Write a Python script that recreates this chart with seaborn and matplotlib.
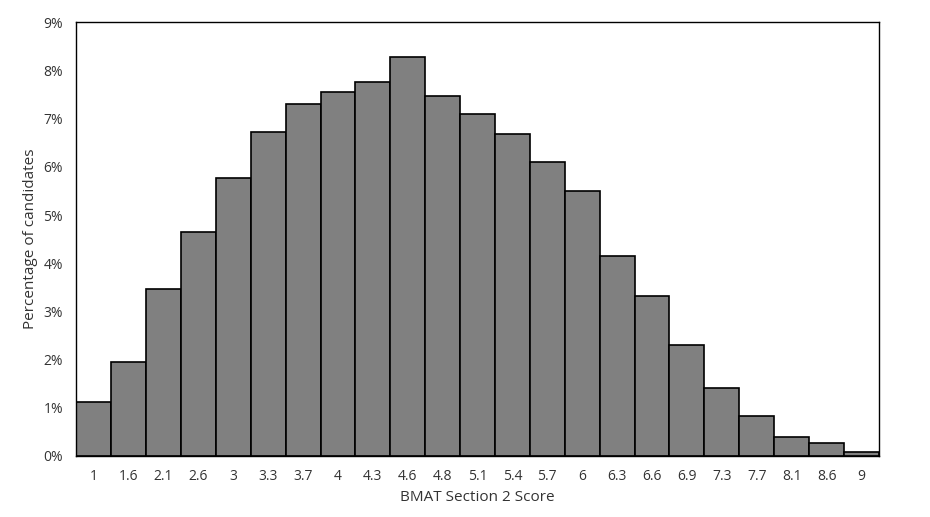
import matplotlib
matplotlib.use("Agg")
import matplotlib.pyplot as plt
import seaborn as sns
import pandas as pd
from matplotlib.ticker import PercentFormatter

scores = ["1", "1.6", "2.1", "2.6", "3", "3.3", "3.7", "4", "4.3", "4.6", "4.8", "5.1",
          "5.4", "5.7", "6", "6.3", "6.6", "6.9", "7.3", "7.7", "8.1", "8.6", "9"]
percent = [1.12, 1.95, 3.46, 4.65, 5.77, 6.72, 7.30, 7.55, 7.76, 8.28, 7.47, 7.10,
           6.68, 6.10, 5.50, 4.15, 3.32, 2.30, 1.41, 0.83, 0.39, 0.27, 0.08]

df = pd.DataFrame({"score": scores, "pct": percent})

sns.set_theme(style="white")
plt.rcParams['font.family'] = ['Open Sans', 'DejaVu Sans']

fig, ax = plt.subplots(figsize=(9.3, 5.17), dpi=100)
fig.subplots_adjust(left=0.082, right=0.945, top=0.957, bottom=0.118)

sns.barplot(data=df, x="score", y="pct", color="#808080", saturation=1,
            width=1.0, edgecolor="black", linewidth=1.2, ax=ax)

ax.set_ylim(0, 9)
ax.set_xlim(-0.5, len(scores) - 0.5)
ax.set_yticks(range(0, 10))
ax.yaxis.set_major_formatter(PercentFormatter(decimals=0))
ax.tick_params(labelsize=10, colors="#333333")
ax.set_xlabel("BMAT Section 2 Score", fontsize=11, color="#333333")
ax.set_ylabel("Percentage of candidates", fontsize=11, color="#333333")
for s in ax.spines.values():
    s.set_color("black")
    s.set_linewidth(1)

fig.savefig("out.png", dpi=100)
